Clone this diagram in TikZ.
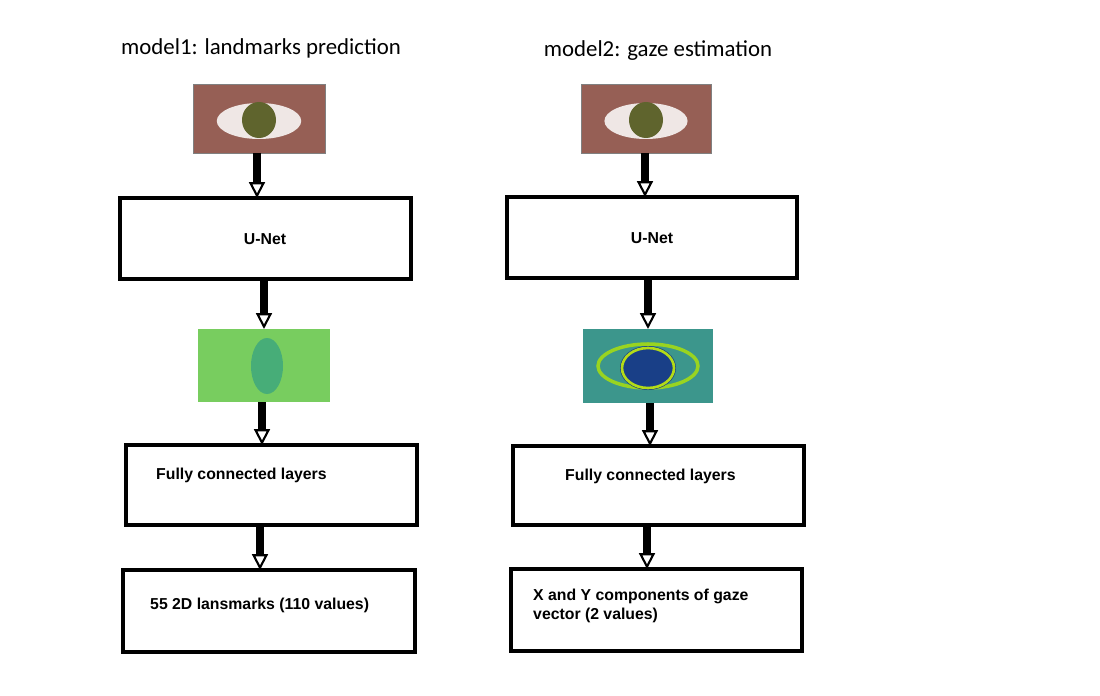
\documentclass[tikz,border=0pt]{standalone}
\usepackage{fontspec}
\setmainfont{Liberation Sans}
\newfontfamily\titlefont{Carlito}
\usetikzlibrary{arrows.meta}
\definecolor{skin}{RGB}{150,95,85}
\definecolor{iris}{RGB}{95,100,45}
\definecolor{hmA}{RGB}{120,205,95}
\definecolor{hmB}{RGB}{50,160,130}
\definecolor{hmC}{RGB}{60,150,140}
\begin{document}
\begin{tikzpicture}[x=0.02cm,y=-0.02cm,
  box/.style={draw,line width=1.8pt,fill=white},
  lbl/.style={font=\fontsize{9}{11}\selectfont\bfseries,anchor=west,align=left},
  ttl/.style={font=\titlefont\fontsize{13}{15}\selectfont},
  flow/.style={line width=5pt,-{Triangle[open,length=9pt,width=9pt,line width=1.2pt]},shorten >=0pt}]
\useasboundingbox[fill=white] (0,0) rectangle (1100,696);
% titles
\node[ttl] (t1) at (261,48) {model1: landmarks prediction};
\node[ttl] (t2) at (658,51) {model2: gaze estimation};
% eye images
\foreach \n/\x/\w in {e1/193/132,e2/581/130}{
  \begin{scope}
  \clip (\x,84) rectangle ++(\w,69);
  \fill[skin] (\x,84) rectangle ++(\w,69);
  \fill[white!85!skin] (\x+0.5*\w,121) ellipse ({0.32*\w} and 18);
  \fill[iris] (\x+0.5*\w,120) ellipse (17 and 18);
  \end{scope}
  \node[draw=gray,line width=0.6pt,minimum width=\w*0.02cm,minimum height=1.38cm,anchor=north west,inner sep=0] (\n) at (\x,84) {};
}
% heatmaps
\fill[hmA] (198,329) rectangle (330,402);
\fill[hmB!70!hmA] (267,366) ellipse (16 and 28);
\node[minimum width=2.64cm,minimum height=1.46cm,anchor=north west,inner sep=0] (h1) at (198,329) {};
\fill[hmC] (583,329) rectangle (713,403);
\draw[yellow!60!green,line width=2pt] (648,366) ellipse (50 and 22);
\fill[hmC!60!black!70!blue] (648,368) ellipse (28 and 22);
\draw[yellow!70!green,line width=1.5pt] (648,368) ellipse (26 and 20);
\node[minimum width=2.6cm,minimum height=1.48cm,anchor=north west,inner sep=0] (h2) at (583,329) {};
% boxes
\draw[box] (120,198) rectangle (411,279); \node[font=\fontsize{9}{11}\selectfont\bfseries] (u1) at (265,239) {U-Net};
\draw[box] (507,197) rectangle (797,278); \node[font=\fontsize{9}{11}\selectfont\bfseries] (u2) at (652,238) {U-Net};
\draw[box] (126,445) rectangle (417,525); \node[lbl] (f1) at (150,475) {Fully connected layers};
\draw[box] (513,446) rectangle (804,525); \node[lbl] (f2) at (559,476) {Fully connected layers};
\draw[box] (123,570) rectangle (415,652); \node[lbl] (o1) at (144,605) {55 2D lansmarks (110 values)};
\draw[box] (511,569) rectangle (802,651); \node[lbl] (o2) at (527,606) {X and Y components of gaze\\vector (2 values)};
% arrows
\coordinate (a1) at (257,153); \coordinate (b1) at (257,198);
\coordinate (a2) at (264,279); \coordinate (b2) at (264,329);
\coordinate (a3) at (262,402); \coordinate (b3) at (262,445);
\coordinate (a4) at (260,525); \coordinate (b4) at (260,570);
\coordinate (c1) at (645,153); \coordinate (d1) at (645,197);
\coordinate (c2) at (648,278); \coordinate (d2) at (648,329);
\coordinate (c3) at (650,403); \coordinate (d3) at (650,446);
\coordinate (c4) at (647,525); \coordinate (d4) at (647,569);
\foreach \i in {1,2,3,4}{\draw[flow] (a\i) -- (b\i); \draw[flow] (c\i) -- (d\i);}
\end{tikzpicture}
\end{document}
